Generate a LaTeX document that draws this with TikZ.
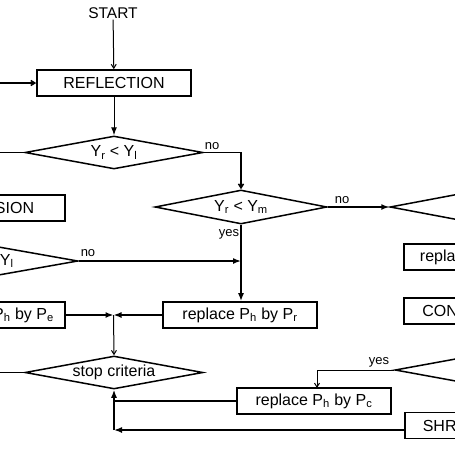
\documentclass[tikz,border=0pt]{standalone}
\usepackage{fontspec}
\setmainfont{Liberation Sans}
\usetikzlibrary{shapes.geometric,arrows.meta}
\begin{document}
\begin{tikzpicture}[x=1pt,y=-1pt,
  box/.style={draw,line width=1.6pt,minimum width=154pt,minimum height=26pt,inner sep=0pt,font=\fontsize{16}{18}\selectfont},
  dec/.style={draw,shape=diamond,aspect=5.4,line width=1.5pt,minimum width=178pt,minimum height=33pt,inner sep=0pt,font=\fontsize{16}{18}\selectfont},
  lab/.style={font=\fontsize{13}{15}\selectfont,inner sep=0pt},
  con/.style={line width=1.5pt},
  thinline/.style={line width=1pt},
  fa/.style={-{Latex[length=8pt,width=6pt]}},
  oa/.style={-{Straight Barb[length=4pt,width=5pt]}},
]
\useasboundingbox (0,0) rectangle (455,455);
\clip (0,0) rectangle (455,455);

% nodes
\node[font=\fontsize{15.5}{18}\selectfont,inner sep=1pt] (start) at (113,13) {START};
\node[box] (refl) at (114,83) {REFLECTION};
\node[dec] (d1) at (114,152.5) {Y\textsubscript{r} < Y\textsubscript{l}};
\node[box] (exp) at (-12,208) {EXPANSION};
\node[dec,minimum width=172pt,minimum height=34pt] (d2) at (241,207) {Y\textsubscript{r} < Y\textsubscript{m}};
\node[dec,minimum height=34pt] (d3) at (479,207) {};
\node[dec,minimum height=32pt] (d4) at (-11,261) {Y\textsubscript{e} < Y\textsubscript{l}};
\node[box] (rpr) at (240,315) {replace P\textsubscript{h} by P\textsubscript{r}};
\node[box,minimum width=140pt] (rpe) at (-5,315) {replace P\textsubscript{h} by P\textsubscript{e}};
\node[box,minimum width=147pt] (rr) at (477.5,257) {replace P\textsubscript{h} by P\textsubscript{r}};
\node[box] (con) at (481,311) {CONTRACTION};
\node[dec] (stop) at (114,372.5) {stop criteria};
\node[dec] (d5) at (484,370) {};
\node[box] (rpc) at (314,401) {replace P\textsubscript{h} by P\textsubscript{c}};
\node[box,minimum width=96pt] (shr) at (453,425.5) {SHRINK};

% labels
\node[lab] (no1) at (212,146) {no};
\node[lab] (no2) at (342,200) {no};
\node[lab] (yes1) at (229,234) {yes};
\node[lab] (no3) at (88,253) {no};
\node[lab] (yes2) at (379,362) {yes};

% coordinates
\coordinate (inR) at (0,83);
\coordinate (outD1) at (0,152.5);
\coordinate (outS) at (0,372.5);
\coordinate (m) at (113.5,315);
\coordinate (c1) at (114,430);
\coordinate (s1) at (405,430);
\coordinate (pcTop) at (317,388);

% connectors
\draw[thinline,oa] (start) -- (refl);
\draw[con,oa] (inR) -- (refl.west);
\draw[thinline,fa] (refl) -- (d1);
\draw[con] (outD1) -- (d1.west);
\draw[con,oa] (d1.east) -| (d2.north);
\draw[con,fa] (d2.east) -- (d3.west);
\draw[con,fa] (d2.south) -- (rpr.north -| d2.south);
\draw[con,fa] (d4.east) -- (d4.east -| d2.south);
\draw[con,fa] (rpe.east) -- (m);
\draw[con,fa] (rpr.west) -- (m);
\draw[thinline,oa] (m) -- (stop.north);
\draw[con] (outS) -- (stop.west);
\draw[thinline,oa] (d5.west) -| (pcTop);
\draw[con,fa] (s1) -- (c1);
\draw[con,fa] (c1) -- (stop.south);
\draw[con] (rpc.west) -- (rpc.west -| c1);
\end{tikzpicture}
\end{document}
